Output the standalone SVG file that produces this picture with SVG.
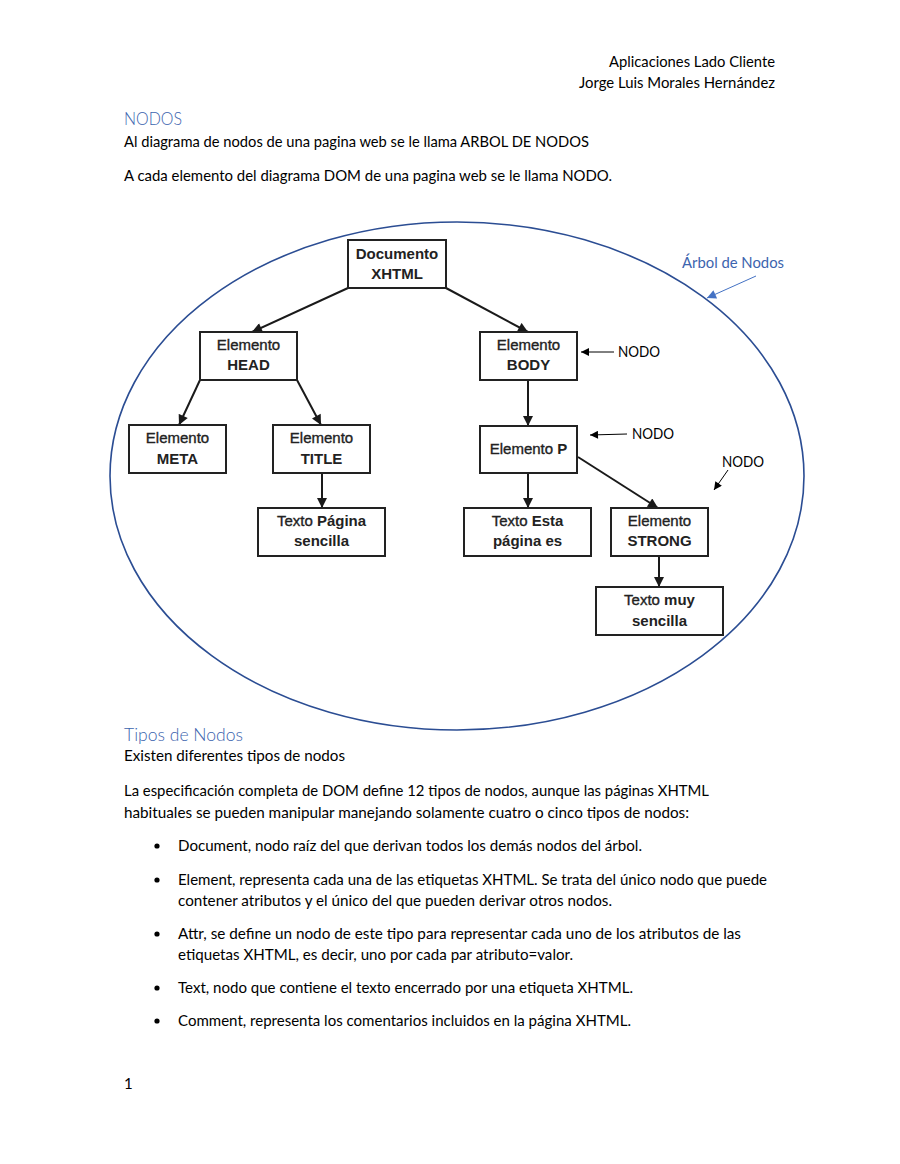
<svg xmlns="http://www.w3.org/2000/svg" width="900" height="1164" viewBox="0 0 900 1164">
<style>
.body{font-family:Lato,"Liberation Sans",sans-serif;font-size:15px;fill:#000}
.head{font-family:Lato,"Liberation Sans",sans-serif;font-size:18px;fill:#3C64AE;font-weight:300}
.blue{font-family:Lato,"Liberation Sans",sans-serif;font-size:15px;fill:#3C64AE}
.box{fill:#fff;stroke:#222;stroke-width:2}
.t1{font-family:"Liberation Sans",Arial,sans-serif;font-size:15px;fill:#222;stroke:#222;stroke-width:0.35;text-anchor:middle}
.t2{font-family:"Liberation Sans",Arial,sans-serif;font-size:15px;fill:#222;font-weight:bold;text-anchor:middle}
.b{font-weight:bold;stroke:none}
.conn{stroke:#1a1a1a;stroke-width:2;fill:none}
.thin{stroke:#000;stroke-width:1;fill:none}
</style>
<defs>
<marker id="ah" viewBox="0 0 10 10" refX="10" refY="5" markerWidth="11" markerHeight="10" markerUnits="userSpaceOnUse" orient="auto"><path d="M0,0 L10,5 L0,10 z" fill="#1a1a1a"/></marker>
<marker id="ahs" viewBox="0 0 10 10" refX="10" refY="5" markerWidth="9" markerHeight="8" markerUnits="userSpaceOnUse" orient="auto"><path d="M0,0 L10,5 L0,10 z" fill="#000"/></marker>
<marker id="ahb" viewBox="0 0 10 10" refX="10" refY="5" markerWidth="10" markerHeight="9" markerUnits="userSpaceOnUse" orient="auto"><path d="M0,0 L10,5 L0,10 z" fill="#4472C4"/></marker>
</defs>
<rect width="900" height="1164" fill="#fff"/>

<g id="header">
<text class="body" x="775" y="67" text-anchor="end" textLength="166" lengthAdjust="spacingAndGlyphs">Aplicaciones Lado Cliente</text>
<text class="body" x="775" y="88" text-anchor="end" textLength="196" lengthAdjust="spacingAndGlyphs">Jorge Luis Morales Hernández</text>
</g>

<g id="intro">
<text class="head" x="124" y="125" textLength="58" lengthAdjust="spacingAndGlyphs">NODOS</text>
<text class="body" x="124" y="147" textLength="465" lengthAdjust="spacingAndGlyphs">Al diagrama de nodos de una pagina web se le llama ARBOL DE NODOS</text>
<text class="body" x="124" y="181" textLength="488" lengthAdjust="spacingAndGlyphs">A cada elemento del diagrama DOM de una pagina web se le llama NODO.</text>
</g>

<g id="arbol-ellipse">
<ellipse cx="457" cy="476" rx="347" ry="254" fill="none" stroke="#2B4D93" stroke-width="1.6"/>
</g>

<g id="connectors">
<line class="conn" x1="348" y1="288" x2="252" y2="332" marker-end="url(#ah)"/>
<line class="conn" x1="446" y1="288" x2="528" y2="332" marker-end="url(#ah)"/>
<line class="conn" x1="200" y1="380" x2="179" y2="425" marker-end="url(#ah)"/>
<line class="conn" x1="297" y1="380" x2="321" y2="425" marker-end="url(#ah)"/>
<line class="conn" x1="528" y1="380" x2="528" y2="426" marker-end="url(#ah)"/>
<line class="conn" x1="322" y1="473" x2="322" y2="508" marker-end="url(#ah)"/>
<line class="conn" x1="528" y1="473" x2="528" y2="508" marker-end="url(#ah)"/>
<line class="conn" x1="578" y1="457" x2="658" y2="508" marker-end="url(#ah)"/>
<line class="conn" x1="659" y1="556" x2="659" y2="587" marker-end="url(#ah)"/>
<line class="thin" x1="614" y1="352" x2="581" y2="352" marker-end="url(#ahs)"/>
<line class="thin" x1="627" y1="434" x2="590" y2="435" marker-end="url(#ahs)"/>
<line class="thin" x1="728" y1="470" x2="714" y2="490" marker-end="url(#ahs)"/>
<line x1="756" y1="276" x2="707" y2="298" stroke="#4472C4" stroke-width="1" marker-end="url(#ahb)"/>
</g>

<g id="n-documento">
<rect class="box" x="348" y="240" width="98" height="48"/>
<text class="t1" x="397" y="259"><tspan class="b">Documento</tspan></text>
<text class="t2" x="397" y="279">XHTML</text>
</g>
<g id="n-head">
<rect class="box" x="200" y="332" width="97" height="48"/>
<text class="t1" x="248.5" y="350">Elemento</text>
<text class="t2" x="248.5" y="370">HEAD</text>
</g>
<g id="n-body">
<rect class="box" x="480" y="332" width="97" height="48"/>
<text class="t1" x="528.5" y="350">Elemento</text>
<text class="t2" x="528.5" y="370">BODY</text>
</g>
<g id="n-meta">
<rect class="box" x="129" y="425" width="97" height="48"/>
<text class="t1" x="177.5" y="443">Elemento</text>
<text class="t2" x="177.5" y="464">META</text>
</g>
<g id="n-title">
<rect class="box" x="273" y="425" width="97" height="48"/>
<text class="t1" x="321.5" y="443">Elemento</text>
<text class="t2" x="321.5" y="464">TITLE</text>
</g>
<g id="n-p">
<rect class="box" x="480" y="426" width="97" height="47"/>
<text class="t1" x="528.5" y="454">Elemento <tspan class="b">P</tspan></text>
</g>
<g id="n-texto-pagina">
<rect class="box" x="258" y="508" width="127" height="48"/>
<text class="t1" x="321.5" y="526">Texto <tspan class="b">Página</tspan></text>
<text class="t2" x="321.5" y="546">sencilla</text>
</g>
<g id="n-texto-esta">
<rect class="box" x="464" y="508" width="127" height="48"/>
<text class="t1" x="527.5" y="526">Texto <tspan class="b">Esta</tspan></text>
<text class="t2" x="527.5" y="546">página es</text>
</g>
<g id="n-strong">
<rect class="box" x="611" y="508" width="97" height="48"/>
<text class="t1" x="659.5" y="526">Elemento</text>
<text class="t2" x="659.5" y="546">STRONG</text>
</g>
<g id="n-texto-muy">
<rect class="box" x="596" y="587" width="127" height="48"/>
<text class="t1" x="659.5" y="605">Texto <tspan class="b">muy</tspan></text>
<text class="t2" x="659.5" y="626">sencilla</text>
</g>

<g id="labels">
<text class="blue" x="682" y="268" textLength="102" lengthAdjust="spacingAndGlyphs">Árbol de Nodos</text>
<text class="body" x="618" y="357" textLength="42" lengthAdjust="spacingAndGlyphs">NODO</text>
<text class="body" x="632" y="439" textLength="42" lengthAdjust="spacingAndGlyphs">NODO</text>
<text class="body" x="722" y="467" textLength="42" lengthAdjust="spacingAndGlyphs">NODO</text>
</g>

<g id="tipos">
<text class="head" x="124" y="741" textLength="119" lengthAdjust="spacingAndGlyphs">Tipos de Nodos</text>
<text class="body" x="124" y="761" textLength="221" lengthAdjust="spacingAndGlyphs">Existen diferentes tipos de nodos</text>
<text class="body" x="124" y="796" textLength="585" lengthAdjust="spacingAndGlyphs">La especificación completa de DOM define 12 tipos de nodos, aunque las páginas XHTML</text>
<text class="body" x="124" y="818" textLength="565" lengthAdjust="spacingAndGlyphs">habituales se pueden manipular manejando solamente cuatro o cinco tipos de nodos:</text>
<circle cx="157" cy="846" r="2.6"/>
<text class="body" x="178" y="851" textLength="464" lengthAdjust="spacingAndGlyphs">Document, nodo raíz del que derivan todos los demás nodos del árbol.</text>
<circle cx="157" cy="880" r="2.6"/>
<text class="body" x="178" y="885" textLength="589" lengthAdjust="spacingAndGlyphs">Element, representa cada una de las etiquetas XHTML. Se trata del único nodo que puede</text>
<text class="body" x="178" y="906" textLength="434" lengthAdjust="spacingAndGlyphs">contener atributos y el único del que pueden derivar otros nodos.</text>
<circle cx="157" cy="934" r="2.6"/>
<text class="body" x="178" y="939" textLength="563" lengthAdjust="spacingAndGlyphs">Attr, se define un nodo de este tipo para representar cada uno de los atributos de las</text>
<text class="body" x="178" y="960" textLength="395" lengthAdjust="spacingAndGlyphs">etiquetas XHTML, es decir, uno por cada par atributo=valor.</text>
<circle cx="157" cy="988" r="2.6"/>
<text class="body" x="178" y="993" textLength="455" lengthAdjust="spacingAndGlyphs">Text, nodo que contiene el texto encerrado por una etiqueta XHTML.</text>
<circle cx="157" cy="1021" r="2.6"/>
<text class="body" x="178" y="1026" textLength="453" lengthAdjust="spacingAndGlyphs">Comment, representa los comentarios incluidos en la página XHTML.</text>
<text class="body" x="124" y="1089">1</text>
</g>
</svg>
